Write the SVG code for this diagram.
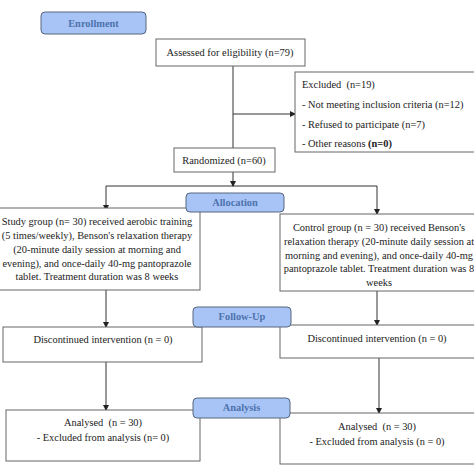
<svg xmlns="http://www.w3.org/2000/svg" width="474" height="474" viewBox="0 0 474 474">
<style>
.box{fill:#fff;stroke:#666;stroke-width:1}
.lab{fill:#a8c4f6;stroke:#56667f;stroke-width:1}
.t{font-family:"Liberation Serif","Times New Roman",serif;font-size:10.4px;fill:#222}
.c{text-anchor:middle}
.lt{font-family:"Liberation Serif","Times New Roman",serif;font-size:10.4px;font-weight:bold;fill:#4d72ad;text-anchor:middle}
.ln{fill:none;stroke:#333;stroke-width:1}
</style>
<defs>
<marker id="ah" markerWidth="6" markerHeight="6" refX="5" refY="3" orient="auto" markerUnits="userSpaceOnUse">
<path d="M0,0 L6,3 L0,6 z" fill="#222"/>
</marker>
</defs>
<rect width="474" height="474" fill="#fff"/>
<g id="connectors">
<path class="ln" d="M233,66 V186" marker-end="url(#ah)"/>
<path class="ln" d="M233,114 H295" marker-end="url(#ah)"/>
<path class="ln" d="M106,186 H377"/>
<path class="ln" d="M106,186 V210" marker-end="url(#ah)"/>
<path class="ln" d="M377,186 V214" marker-end="url(#ah)"/>
<path class="ln" d="M106,290 V327" marker-end="url(#ah)"/>
<path class="ln" d="M377,291 V325" marker-end="url(#ah)"/>
<path class="ln" d="M106,362 V410" marker-end="url(#ah)"/>
<path class="ln" d="M379,358 V413" marker-end="url(#ah)"/>
</g>
<g id="assessed">
<rect class="box" x="156" y="39" width="149" height="27"/>
<text class="t c" x="230" y="56">Assessed for eligibility (n=79)</text>
</g>
<g id="excluded">
<rect class="box" x="295" y="72" width="185" height="80"/>
<text class="t" x="302" y="88">Excluded &#160;(n=19)</text>
<text class="t" x="302" y="108">- Not meeting inclusion criteria (n=12)</text>
<text class="t" x="302" y="128">- Refused to participate (n=7)</text>
<text class="t" x="302" y="147">- Other reasons <tspan font-weight="bold">(n=0)</tspan></text>
</g>
<g id="randomized">
<rect class="box" x="174" y="148" width="101" height="24"/>
<text class="t c" x="224" y="164">Randomized (n=60)</text>
</g>
<g id="study">
<rect class="box" x="-1" y="208" width="201" height="82"/>
<text class="t c" x="97" y="225">Study group (n= 30) received aerobic training</text>
<text class="t c" x="97" y="239">(5 times/weekly), Benson's relaxation therapy</text>
<text class="t c" x="97" y="253">(20-minute daily session at morning and</text>
<text class="t c" x="97" y="267">evening), and once-daily 40-mg pantoprazole</text>
<text class="t c" x="97" y="280">tablet. Treatment duration was 8 weeks</text>
</g>
<g id="control">
<rect class="box" x="280" y="214" width="200" height="77"/>
<text class="t c" x="379" y="231">Control group (n = 30) received Benson's</text>
<text class="t c" x="379" y="245">relaxation therapy (20-minute daily session at</text>
<text class="t c" x="379" y="259">morning and evening), and once-daily 40-mg</text>
<text class="t c" x="379" y="272">pantoprazole tablet. Treatment duration was 8</text>
<text class="t c" x="379" y="286">weeks</text>
</g>
<g id="disc-left">
<rect class="box" x="3" y="327" width="199" height="35"/>
<text class="t c" x="103" y="343">Discontinued intervention (n = 0)</text>
</g>
<g id="disc-right">
<rect class="box" x="280" y="325" width="200" height="33"/>
<text class="t c" x="377" y="342">Discontinued intervention (n = 0)</text>
</g>
<g id="an-left">
<rect class="box" x="6" y="410" width="194" height="51"/>
<text class="t c" x="103" y="426">Analysed &#160;(n = 30)</text>
<text class="t c" x="103" y="441">- Excluded from analysis (n= 0)</text>
</g>
<g id="an-right">
<rect class="box" x="280" y="413" width="200" height="51"/>
<text class="t c" x="377" y="430">Analysed &#160;(n = 30)</text>
<text class="t c" x="377" y="445">- Excluded from analysis (n = 0)</text>
</g>
<g id="enrollment">
<rect class="lab" x="41" y="12" width="105" height="22" rx="4"/>
<text class="lt" x="93.5" y="27">Enrollment</text>
</g>
<g id="allocation">
<rect class="lab" x="186" y="193" width="98" height="19" rx="4"/>
<text class="lt" x="235" y="206">Allocation</text>
</g>
<g id="followup">
<rect class="lab" x="193" y="307" width="98" height="20" rx="4"/>
<text class="lt" x="242" y="320">Follow-Up</text>
</g>
<g id="analysis">
<rect class="lab" x="193" y="398" width="97" height="20" rx="4"/>
<text class="lt" x="241.5" y="411">Analysis</text>
</g>
</svg>
